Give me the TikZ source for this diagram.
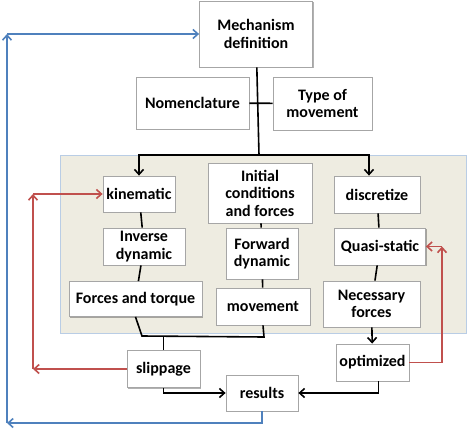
\documentclass[tikz,border=0pt]{standalone}
\usepackage{fontspec}
\setmainfont{Carlito}
\usepackage{xcolor}
\usetikzlibrary{arrows.meta,shadows}

\definecolor{loopblue}{HTML}{4F81BD}
\definecolor{loopred}{HTML}{C0504D}
\definecolor{panelfill}{HTML}{EEECE1}
\definecolor{panelline}{HTML}{B9CDE5}

\begin{document}
\begin{tikzpicture}[
    x=1pt, y=-1pt,
    box/.style={rectangle, draw=black!35, fill=white, line width=0.8pt, align=center,
        font=\fontsize{16}{17.5}\selectfont\bfseries, inner sep=1pt,
        drop shadow={shadow xshift=1.2pt, shadow yshift=-1.2pt, opacity=0.3, fill=black}},
    link/.style={line width=1.6pt, black},
    arrow/.style={link, -{Straight Barb[length=5pt,width=9pt]}},
    bluearrow/.style={line width=1.6pt, loopblue, -{Straight Barb[length=5pt,width=9pt]}},
    redarrow/.style={line width=1.6pt, loopred, -{Straight Barb[length=5pt,width=9pt]}}
]
    \useasboundingbox (0,0) rectangle (474,434);

    % Panel behind the three branches
    \fill[panelfill] (60,155) rectangle (466,333);
    \draw[panelline, line width=1pt] (60,155) rectangle (466,333);

    % Definition
    \node[box, minimum width=113pt, minimum height=66pt] (mech) at (256,34) {Mechanism\\definition};
    \node[box, minimum width=113pt, minimum height=52pt] (nomen) at (192.5,103) {Nomenclature};
    \node[box, minimum width=99pt, minimum height=53pt] (type) at (322.5,103.5) {Type of\\movement};

    % Left branch
    \node[box, minimum width=72pt, minimum height=36pt] (kin) at (139,194) {kinematic};
    \node[box, minimum width=82pt, minimum height=37pt] (inv) at (144,246.5) {Inverse\\dynamic};
    \node[box, minimum width=133pt, minimum height=35pt] (ftq) at (135.5,299) {Forces and torque};

    % Middle branch
    \node[box, minimum width=104pt, minimum height=60pt] (init) at (260,193) {Initial\\conditions\\and forces};
    \node[box, minimum width=72pt, minimum height=51pt] (fwd) at (262,253.5) {Forward\\dynamic};
    \node[box, minimum width=94pt, minimum height=37pt] (mov) at (263,306.5) {movement};

    % Right branch
    \node[box, minimum width=86pt, minimum height=37pt] (disc) at (377,194.5) {discretize};
    \node[box, minimum width=91pt, minimum height=37pt] (quasi) at (380,246.5) {Quasi-static};
    \node[box, minimum width=97pt, minimum height=46pt] (nec) at (371.5,304) {Necessary\\forces};

    % Outputs
    \node[box, minimum width=73pt, minimum height=37pt] (slip) at (163.5,369) {slippage};
    \node[box, minimum width=73pt, minimum height=37pt] (opt) at (372.5,362.5) {optimized};
    \node[box, minimum width=72pt, minimum height=36pt] (res) at (262,393) {results};

    % Helper points
    \coordinate (split) at (259,155);
    \coordinate (jl) at (142,336);
    \coordinate (jr) at (264,337);
    \coordinate (bl) at (7,423);
    \coordinate (tl) at (7,34);
    \coordinate (rl) at (33,369);
    \coordinate (ru) at (33,194);
    \coordinate (rq) at (442,246.5);

    % Tree
    \draw[link] (mech) -- (split);
    \draw[link] (nomen) -- (type);
    \draw[arrow] (split) -| (kin);
    \draw[arrow] (split) -| ([xshift=-8pt]disc.north);

    \draw[link] (kin) -- (inv);
    \draw[link] (inv) -- (ftq);
    \draw[link] (init) -- (fwd);
    \draw[link] (fwd) -- (mov);
    \draw[link] (disc) -- (quasi);
    \draw[link] (quasi) -- (nec);
    \draw[arrow] (nec) -- (opt);

    \draw[link] (ftq.south) -- (jl) -- (jr) -- (mov.south);
    \draw[link] (slip |- jl) -- (slip);

    \draw[arrow] (slip.south) |- (res);
    \draw[arrow] ([xshift=6pt]opt.south) |- (res);

    % Loops
    \draw[bluearrow] (res.south) |- (bl);
    \draw[bluearrow] (bl) -- (tl);
    \draw[bluearrow] (tl) -- (mech);

    \draw[redarrow] (slip) -- (rl);
    \draw[redarrow] (rl) -- (ru);
    \draw[redarrow] (ru) -- (kin);

    \draw[redarrow] (opt) -| (rq);
    \draw[redarrow] (rq) -- (quasi);
\end{tikzpicture}
\end{document}
